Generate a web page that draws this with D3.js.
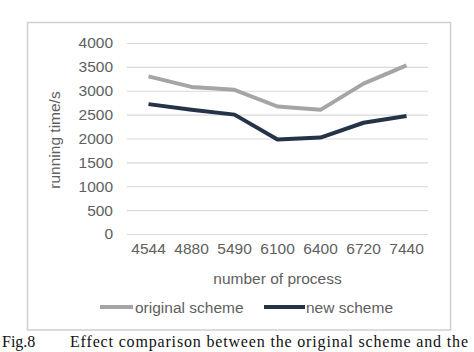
<!DOCTYPE html>
<html lang="en">
<head>
  <meta charset="UTF-8"/>
  <title>running time comparison</title>
  <style>
    *{margin:0;padding:0}
    body{background:#fff;width:474px;height:352px;overflow:hidden}
    svg{display:block;font-family:"Liberation Sans",Arial,sans-serif}
  </style>
</head>
<body>
  <div id="chart"></div>
  <script src="https://d3js.org/d3.v7.min.js"></script>
  <script>
    const categories = ['4544','4880','5490','6100','6400','6720','7440'];
    const original   = [3300, 3080, 3020, 2670, 2600, 3150, 3530];
    const newScheme  = [2720, 2600, 2500, 1980, 2020, 2330, 2470];
    const yTicks     = [0, 500, 1000, 1500, 2000, 2500, 3000, 3500, 4000];

    const series = [
      { name:'original scheme', values:original,  color:'#a5a5a5' },
      { name:'new scheme',      values:newScheme, color:'#253348' }
    ];

    const W = 474, H = 352;
    const plot = { left:127, right:428, top:43, bottom:234 };
    const txt = '#606060', fs = '15.5px';

    const svg = d3.select('#chart').append('svg')
      .attr('width', W).attr('height', H);

    // outer chart frame
    svg.append('rect')
      .attr('x', 27.5).attr('y', 22.5).attr('width', 423).attr('height', 307.5)
      .attr('fill', 'none').attr('stroke', '#d0d0d0').attr('stroke-width', 1.5);

    const x = d3.scaleBand().domain(categories).range([plot.left, plot.right]);
    const y = d3.scaleLinear().domain([0, 4000]).range([plot.bottom, plot.top]);

    // grid + y labels
    const yAxis = svg.append('g')
      .attr('transform', `translate(${plot.left},0)`)
      .call(d3.axisLeft(y).tickValues(yTicks).tickSize(-(plot.right - plot.left)).tickPadding(14).tickFormat(d3.format('d')));
    yAxis.select('.domain').remove();
    yAxis.selectAll('line').attr('stroke', '#d9d9d9').attr('stroke-width', 1.2);
    yAxis.selectAll('text').attr('fill', txt).style('font-size', fs);

    // x labels
    const xAxis = svg.append('g')
      .attr('transform', `translate(0,${plot.bottom})`)
      .call(d3.axisBottom(x).tickSize(0).tickPadding(9));
    xAxis.select('.domain').remove();
    xAxis.selectAll('text').attr('fill', txt).style('font-size', fs);
    svg.selectAll('g.tick text').style('font-family', '"Liberation Sans",Arial,sans-serif');

    // axis titles
    svg.append('text')
      .attr('x', (plot.left + plot.right) / 2).attr('y', 284)
      .attr('text-anchor', 'middle').attr('fill', txt)
      .style('font-size', fs).text('number of process');
    svg.append('text')
      .attr('transform', 'translate(60,140) rotate(-90)')
      .attr('text-anchor', 'middle').attr('fill', txt)
      .style('font-size', fs).text('running time/s');

    // lines
    const line = d3.line()
      .x((d, i) => x(categories[i]) + x.bandwidth() / 2)
      .y(d => y(d));
    svg.selectAll('path.series')
      .data(series)
      .join('path')
      .attr('class', 'series')
      .attr('d', d => line(d.values))
      .attr('fill', 'none')
      .attr('stroke', d => d.color)
      .attr('stroke-width', 4)
      .attr('stroke-linejoin', 'round');

    // legend
    const legendX = [100, 264];
    const lg = svg.selectAll('g.legend')
      .data(series)
      .join('g')
      .attr('class', 'legend')
      .attr('transform', (d, i) => `translate(${legendX[i]},307)`);
    lg.append('line')
      .attr('x1', 0).attr('x2', (d, i) => i ? 41 : 33)
      .attr('stroke', d => d.color).attr('stroke-width', 4);
    lg.append('text')
      .attr('x', (d, i) => i ? 42 : 35).attr('y', 5.5)
      .attr('fill', txt).style('font-size', fs)
      .text(d => d.name);

    // caption below the frame
    const cap = svg.append('g')
      .attr('font-family', '"Liberation Serif",serif')
      .style('font-size', '16px').attr('fill', '#111');
    cap.append('text').attr('x', 2).attr('y', 347).text('Fig.8');
    cap.append('text').attr('x', 70).attr('y', 347)
      .attr('textLength', 398).attr('lengthAdjust', 'spacing')
      .text('Effect comparison between the original scheme and the');
  </script>
</body>
</html>
